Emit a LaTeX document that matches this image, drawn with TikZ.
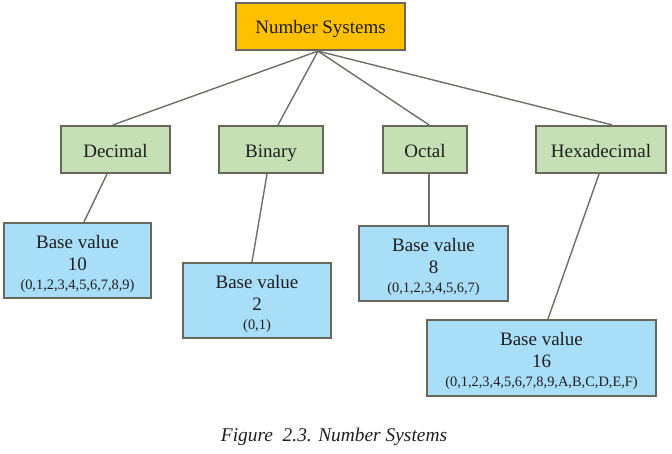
\documentclass[tikz,border=0pt]{standalone}
\usepackage{fontspec}
\setmainfont{Liberation Serif}
\usepackage{xcolor}
\usepackage{tikz}
\definecolor{edge}{HTML}{67675A}
\definecolor{wire}{HTML}{6E6E64}
\definecolor{orange}{HTML}{FFC000}
\definecolor{leaf}{HTML}{C5E0B4}
\definecolor{sky}{HTML}{A9DEF9}
\definecolor{ink}{HTML}{1E1E1E}
\newcommand{\smallfont}{\fontsize{14.4}{17}\selectfont}
\newcommand{\toprule}{\rule{0pt}{20pt}}
\tikzset{
  box/.style={draw=edge, line width=2.2pt, text=ink, inner sep=0pt,
    minimum height=47pt, font=\fontsize{19}{22}\selectfont},
  root/.style={box, fill=orange, text height=17pt, text depth=2pt},
  kind/.style={box, fill=leaf, text height=19pt, text depth=2pt},
  base/.style={box, fill=sky, align=center, minimum height=75pt},
  link/.style={draw=wire, line width=1.4pt, line cap=round},
  caption/.style={text=ink, font=\fontsize{19.4}{22}\selectfont\itshape},
}
\begin{document}
\begin{tikzpicture}[x=1pt,y=-1pt]
  \useasboundingbox (0,0) rectangle (672,454);
  \node[root,minimum width=169pt] (sys) at (320.5,26.5) {Number Systems};
  \coordinate (hub) at ([xshift=-2.5pt]sys.south);
  \node[kind,minimum width=109pt] (dec) at (115.5,149.5) {Decimal};
  \node[kind,minimum width=104pt] (bin) at (271,149.5) {Binary};
  \node[kind,minimum width=84pt] (oct) at (425,149.5) {Octal};
  \node[kind,minimum width=130pt] (hex) at (601,149.5) {Hexadecimal};
  \node[base,minimum width=147pt] (decb) at (77.5,260.5)
    {\toprule Base value\\10\\[-3pt]\smallfont (0,1,2,3,4,5,6,7,8,9)};
  \node[base,minimum width=148pt] (binb) at (257,300.5)
    {\toprule Base value\\2\\[-3pt]\smallfont (0,1)};
  \node[base,minimum width=149pt] (octb) at (433.5,263.5)
    {\toprule Base value\\8\\[-3pt]\smallfont (0,1,2,3,4,5,6,7)};
  \node[base,minimum width=229pt,minimum height=76pt] (hexb) at (541.5,358)
    {\toprule Base value\\16\\[-3pt]\smallfont (0,1,2,3,4,5,6,7,8,9,A,B,C,D,E,F)};
  \draw[link] (hub) -- ([xshift=-2.5pt]dec.north);
  \draw[link] (hub) -- ([xshift=7pt]bin.north);
  \draw[link] (hub) -- ([xshift=4pt]oct.north);
  \draw[link] (hub) -- ([xshift=11pt]hex.north);
  \draw[link] ([xshift=-8.5pt]dec.south) -- ([xshift=6.5pt]decb.north);
  \draw[link] ([xshift=-4pt]bin.south) -- ([xshift=-5pt]binb.north);
  \draw[link] ([xshift=4pt]oct.south) -- ([xshift=-4.5pt]octb.north);
  \draw[link] ([xshift=-2pt]hex.south) -- ([xshift=6.5pt]hexb.north);
  \node[caption] (title) at (334,437) {Figure\ \ 2.3. Number Systems};
\end{tikzpicture}
\end{document}
